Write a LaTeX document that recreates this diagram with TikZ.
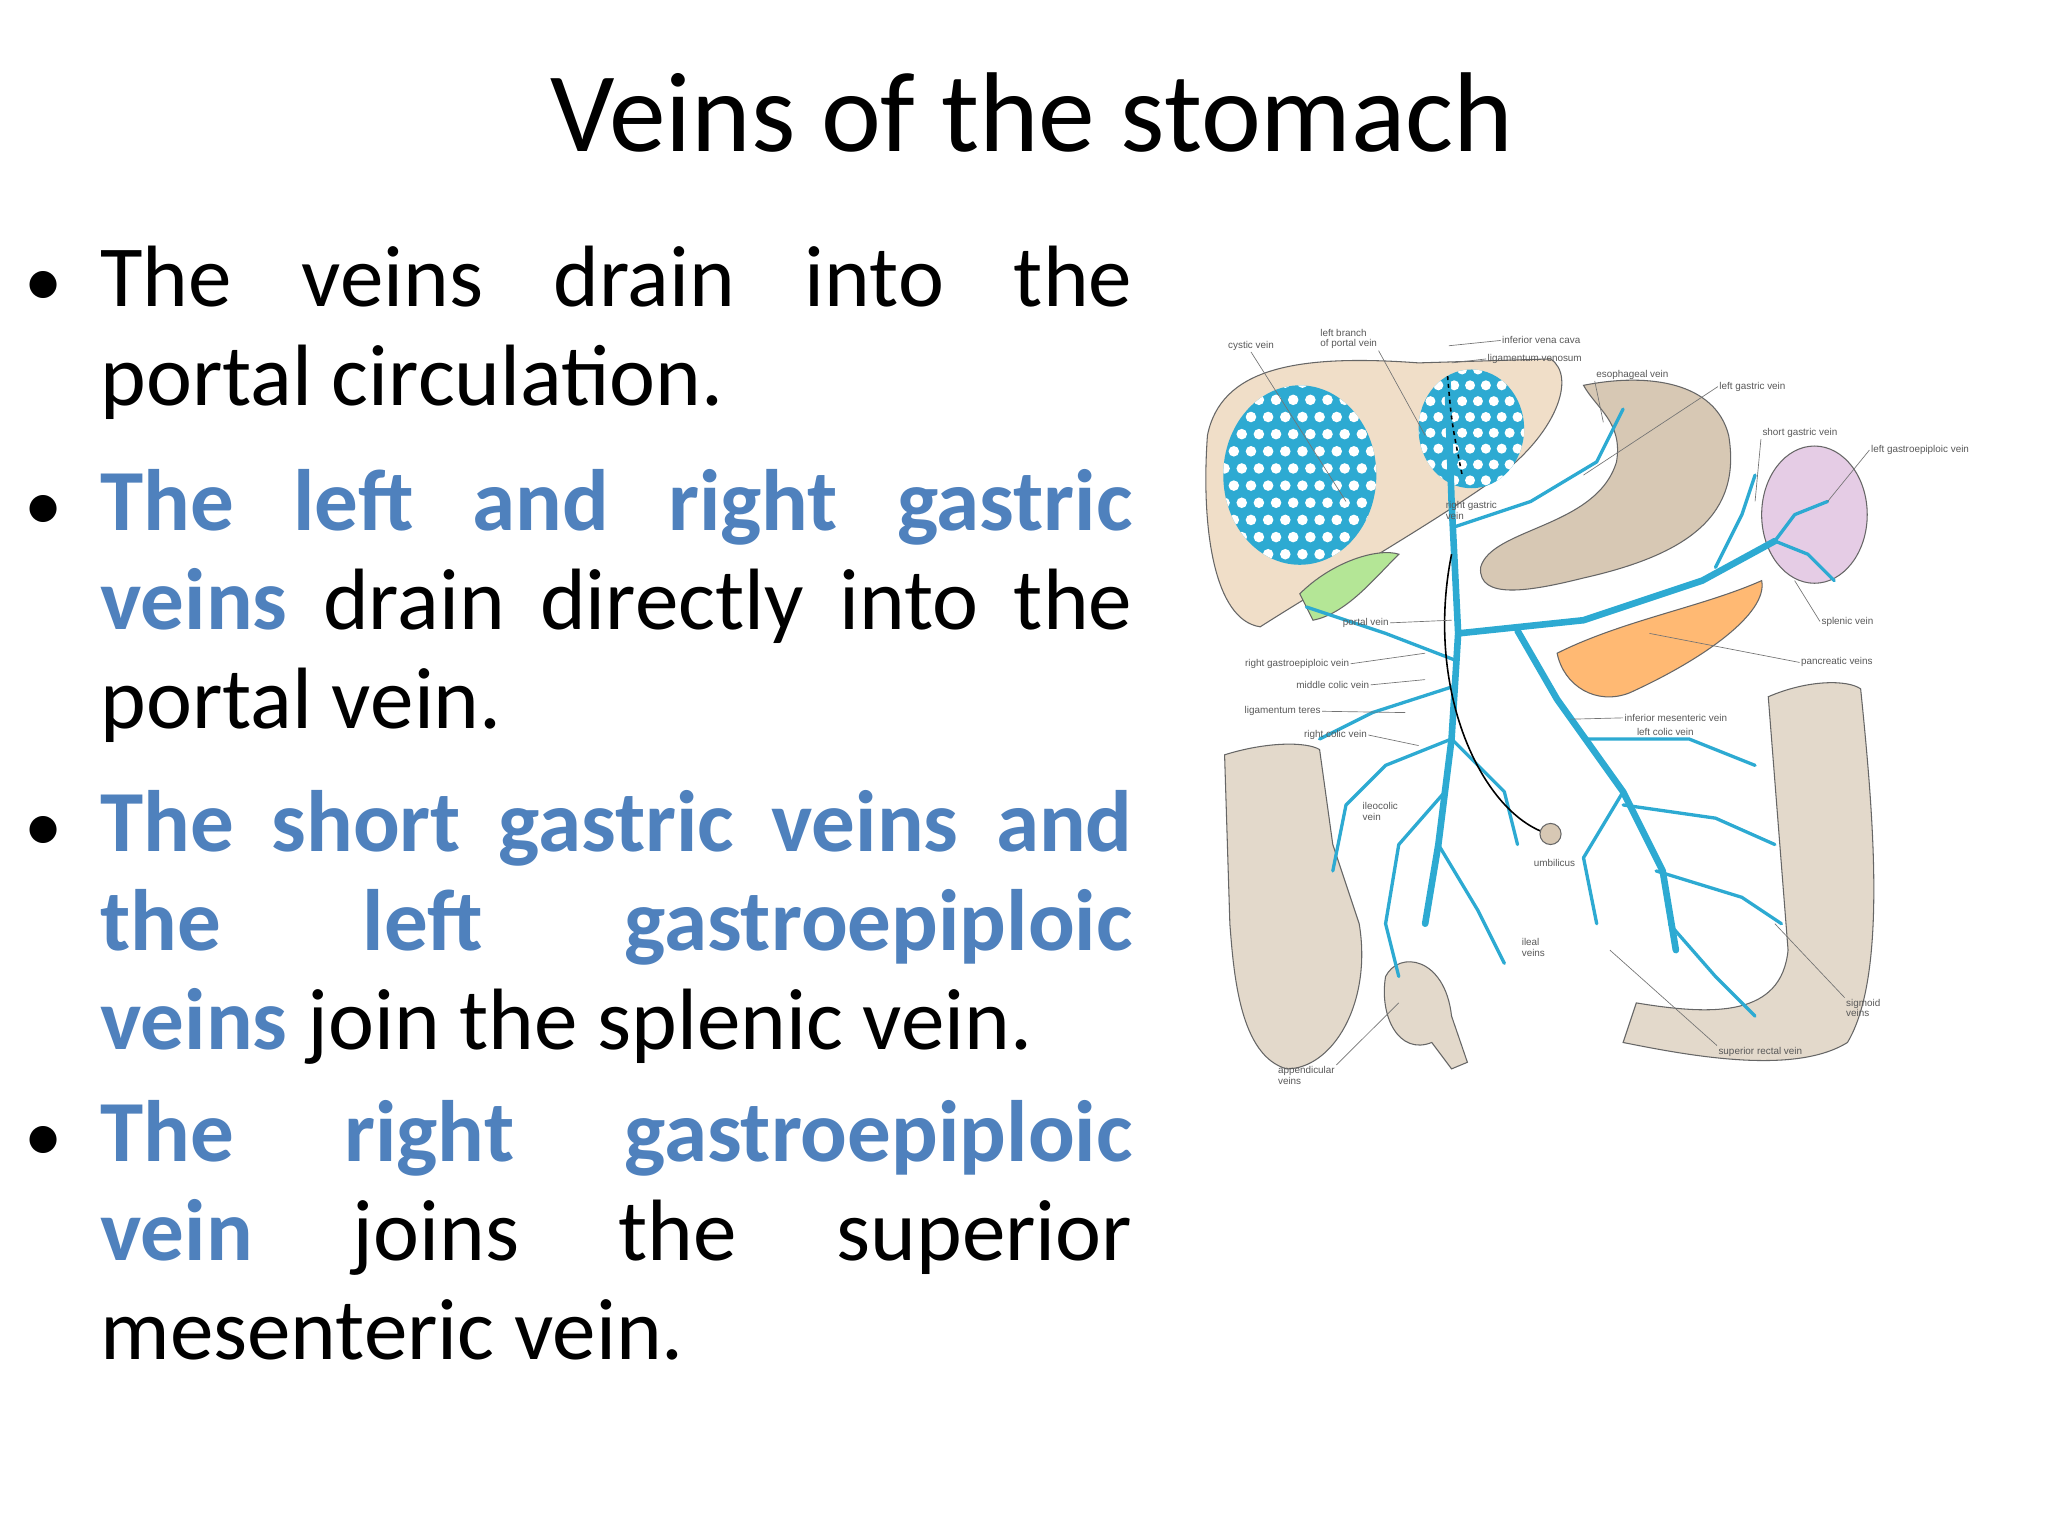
\documentclass[tikz,border=0pt]{standalone}
\usepackage{fontspec}
\setmainfont{Carlito}
\newfontfamily\lab{Liberation Sans}
\definecolor{hl}{RGB}{79,129,189}
\definecolor{vein}{RGB}{45,170,210}
\definecolor{tan}{RGB}{240,222,200}
\definecolor{stom}{RGB}{215,200,180}
\begin{document}
\begin{tikzpicture}[x=1pt,y=-1pt,
  para/.style={anchor=base west,text width=782pt,align=justify,inner sep=0pt,font=\fontsize{66}{75}\selectfont},
  bul/.style={anchor=base west,inner sep=0pt,font=\fontsize{58}{75}\selectfont},
  lbl/.style={font=\lab\fontsize{7.5}{8}\selectfont,text=black!65,inner sep=1pt,align=left},
  ld/.style={draw=black!55,line width=0.5pt},
  v/.style={draw=vein,line width=5pt,line cap=round,line join=round},
  vs/.style={draw=vein,line width=2.5pt,line cap=round,line join=round},
  org/.style={draw=black!60,line width=0.8pt}]
\useasboundingbox (0,0) rectangle (1552,1164);
\fill[white] (0,0) rectangle (1552,1164);
\node[font=\fontsize{86}{90}\selectfont,anchor=base] (title) at (782,115) {Veins of the stomach};
% bullets
\foreach \y/\n in {232/b1,402/b2,645/b3,880/b4}{\node[bul] (\n) at (18,\y) {\textbullet};}
\node[para] (p1) at (76,232) {The veins drain into the\linebreak portal circulation.};
\node[para] (p2) at (76,402) {\textcolor{hl}{\textbf{The left and right gastric\linebreak veins}} drain directly into the\linebreak portal vein.};
\node[para] (p3) at (76,645) {\textcolor{hl}{\textbf{The short gastric veins and\linebreak the left gastroepiploic\linebreak veins}} join the splenic vein.};
\node[para] (p4) at (76,880) {\textcolor{hl}{\textbf{The right gastroepiploic\linebreak vein}} joins the superior\linebreak mesenteric vein.};
% organs
\path[org,fill=tan] (915,330) .. controls (925,280) and (980,268) .. (1075,275) -- (1175,272) .. controls (1195,285) and (1180,330) .. (1130,365) .. controls (1080,400) and (1010,440) .. (955,475) .. controls (920,470) and (910,400) .. (915,330) -- cycle;
\begin{scope}
\clip (985,360) ellipse (58pt and 68pt);
\fill[vein] (920,285) rectangle (1050,440);
\foreach \i in {0,...,9}{\foreach \j in {0,...,11}{\fill[white] ({922+\i*13+mod(\j,2)*6},{290+\j*13}) circle (4pt);}}
\end{scope}
\begin{scope}
\clip (1115,325) ellipse (40pt and 45pt);
\fill[vein] (1070,275) rectangle (1160,380);
\foreach \i in {0,...,7}{\foreach \j in {0,...,8}{\fill[white] ({1072+\i*12+mod(\j,2)*6},{280+\j*12}) circle (3.8pt);}}
\end{scope}
\path[org,fill=green!25!tan] (985,450) .. controls (1010,425) and (1045,415) .. (1060,420) .. controls (1040,440) and (1020,465) .. (995,470) -- cycle;
\path[org,fill=stom] (1200,292) .. controls (1250,282) and (1300,290) .. (1310,330) .. controls (1320,390) and (1280,420) .. (1200,438) .. controls (1160,448) and (1120,455) .. (1122,430) .. controls (1130,400) and (1210,400) .. (1225,350) .. controls (1230,320) and (1210,310) .. (1200,292) -- cycle;
\path[org,fill=violet!20] (1375,390) ellipse (40pt and 52pt);
\path[org,fill=orange!55] (1180,495) .. controls (1230,470) and (1290,460) .. (1335,440) .. controls (1340,465) and (1290,500) .. (1235,525) .. controls (1210,535) and (1185,520) .. (1180,495) -- cycle;
\path[org,fill=stom!70] (928,572) .. controls (960,562) and (990,562) .. (1000,568) -- (1010,640) -- (1030,700) .. controls (1040,760) and (1010,810) .. (975,810) .. controls (940,800) and (935,740) .. (932,700) -- cycle;
\path[org,fill=stom!70] (1050,740) .. controls (1060,720) and (1095,725) .. (1100,770) -- (1112,805) -- (1100,810) -- (1085,790) .. controls (1060,800) and (1045,770) .. (1050,740) -- cycle;
\path[org,fill=stom!70] (1340,528) .. controls (1370,515) and (1400,515) .. (1410,522) .. controls (1420,620) and (1430,740) .. (1400,790) .. controls (1360,815) and (1280,800) .. (1230,790) -- (1240,760) .. controls (1300,770) and (1350,770) .. (1355,720) -- cycle;
% veins
\draw[v] (1097,290) -- (1100,380) -- (1105,480) -- (1100,560) -- (1090,640) -- (1080,700);
\draw[v] (1105,480) -- (1200,470) -- (1290,440) -- (1345,410);
\draw[v] (1150,478) -- (1180,530) -- (1230,600) -- (1260,660) -- (1270,720);
\draw[vs] (1100,400) -- (1160,380) -- (1210,350) -- (1230,310);
\draw[vs] (1345,410) -- (1360,390) -- (1385,380);
\draw[vs] (1345,410) -- (1370,420) -- (1390,440);
\draw[vs] (1300,430) -- (1320,390) -- (1330,360);
\draw[vs] (1102,500) -- (1050,480) -- (990,460);
\draw[vs] (1102,520) -- (1040,540) -- (1000,560);
\draw[vs] (1100,560) -- (1050,580) -- (1020,610) -- (1010,660);
\draw[vs] (1095,600) -- (1060,640) -- (1050,700) -- (1060,740);
\draw[vs] (1090,640) -- (1120,690) -- (1140,730);
\draw[vs] (1100,560) -- (1140,600) -- (1150,640);
\draw[vs] (1200,560) -- (1280,560) -- (1330,580);
\draw[vs] (1230,610) -- (1300,620) -- (1345,640);
\draw[vs] (1255,660) -- (1320,680) -- (1350,700);
\draw[vs] (1265,700) -- (1300,740) -- (1330,770);
\draw[vs] (1230,600) -- (1200,650) -- (1210,700);
\draw[black,line width=1.2pt,dashed] (1097,285) .. controls (1100,320) .. (1108,360);
\draw[black,line width=1.2pt] (1100,420) .. controls (1080,520) and (1120,610) .. (1168,630);
\draw[org,fill=stom] (1175,632) circle (8pt);
% labels
\node[lbl] (l1) at (948,262) {cystic vein};
\node[lbl] (l2) at (1022,257) {left branch\\of portal vein};
\node[lbl] (l3) at (1168,258) {inferior vena cava};
\node[lbl] (l4) at (1163,272) {ligamentum venosum};
\node[lbl] (l5) at (1237,284) {esophageal vein};
\node[lbl] (l6) at (1328,293) {left gastric vein};
\node[lbl] (l7) at (1364,328) {short gastric vein};
\node[lbl] (l8) at (1455,341) {left gastroepiploic vein};
\node[lbl] (l9) at (1115,387) {right gastric\\vein};
\node[lbl] (l10) at (1035,472) {portal vein};
\node[lbl] (l11) at (983,503) {right gastroepiploic vein};
\node[lbl] (l12) at (1010,519) {middle colic vein};
\node[lbl] (l13) at (972,539) {ligamentum teres};
\node[lbl] (l14) at (1012,557) {right colic vein};
\node[lbl] (l15) at (1400,471) {splenic vein};
\node[lbl] (l16) at (1392,502) {pancreatic veins};
\node[lbl] (l17) at (1270,544) {inferior mesenteric vein};
\node[lbl] (l18) at (1262,555) {left colic vein};
\node[lbl] (l19) at (1046,615) {ileocolic\\vein};
\node[lbl] (l20) at (1178,654) {umbilicus};
\node[lbl] (l21) at (1162,718) {ileal\\veins};
\node[lbl] (l22) at (1412,764) {sigmoid\\veins};
\node[lbl] (l23) at (1334,797) {superior rectal vein};
\node[lbl] (l24) at (990,815) {appendicular\\veins};
\coordinate (c1) at (1020,380); \draw[ld] (l1.south) -- (c1);
\coordinate (c2) at (1080,330); \draw[ld] (l2.south east) -- (c2);
\coordinate (c3) at (1098,262); \draw[ld] (l3.west) -- (c3);
\coordinate (c4) at (1100,275); \draw[ld] (l4.west) -- (c4);
\coordinate (c5) at (1215,320); \draw[ld] (l5.south west) -- (c5);
\coordinate (c6) at (1200,360); \draw[ld] (l6.west) -- (c6);
\coordinate (c7) at (1330,380); \draw[ld] (l7.south west) -- (c7);
\coordinate (c8) at (1385,380); \draw[ld] (l8.west) -- (c8);
\coordinate (c10) at (1100,470); \draw[ld] (l10.east) -- (c10);
\coordinate (c11) at (1080,495); \draw[ld] (l11.east) -- (c11);
\coordinate (c12) at (1080,515); \draw[ld] (l12.east) -- (c12);
\coordinate (c13) at (1065,540); \draw[ld] (l13.east) -- (c13);
\coordinate (c14) at (1075,565); \draw[ld] (l14.east) -- (c14);
\coordinate (c15) at (1360,440); \draw[ld] (l15.west) -- (c15);
\coordinate (c16) at (1250,480); \draw[ld] (l16.west) -- (c16);
\coordinate (c17) at (1190,545); \draw[ld] (l17.west) -- (c17);
\coordinate (c22) at (1345,700); \draw[ld] (l22.north west) -- (c22);
\coordinate (c23) at (1220,720); \draw[ld] (l23.north west) -- (c23);
\coordinate (c24) at (1060,760); \draw[ld] (l24.north east) -- (c24);
\end{tikzpicture}
\end{document}
